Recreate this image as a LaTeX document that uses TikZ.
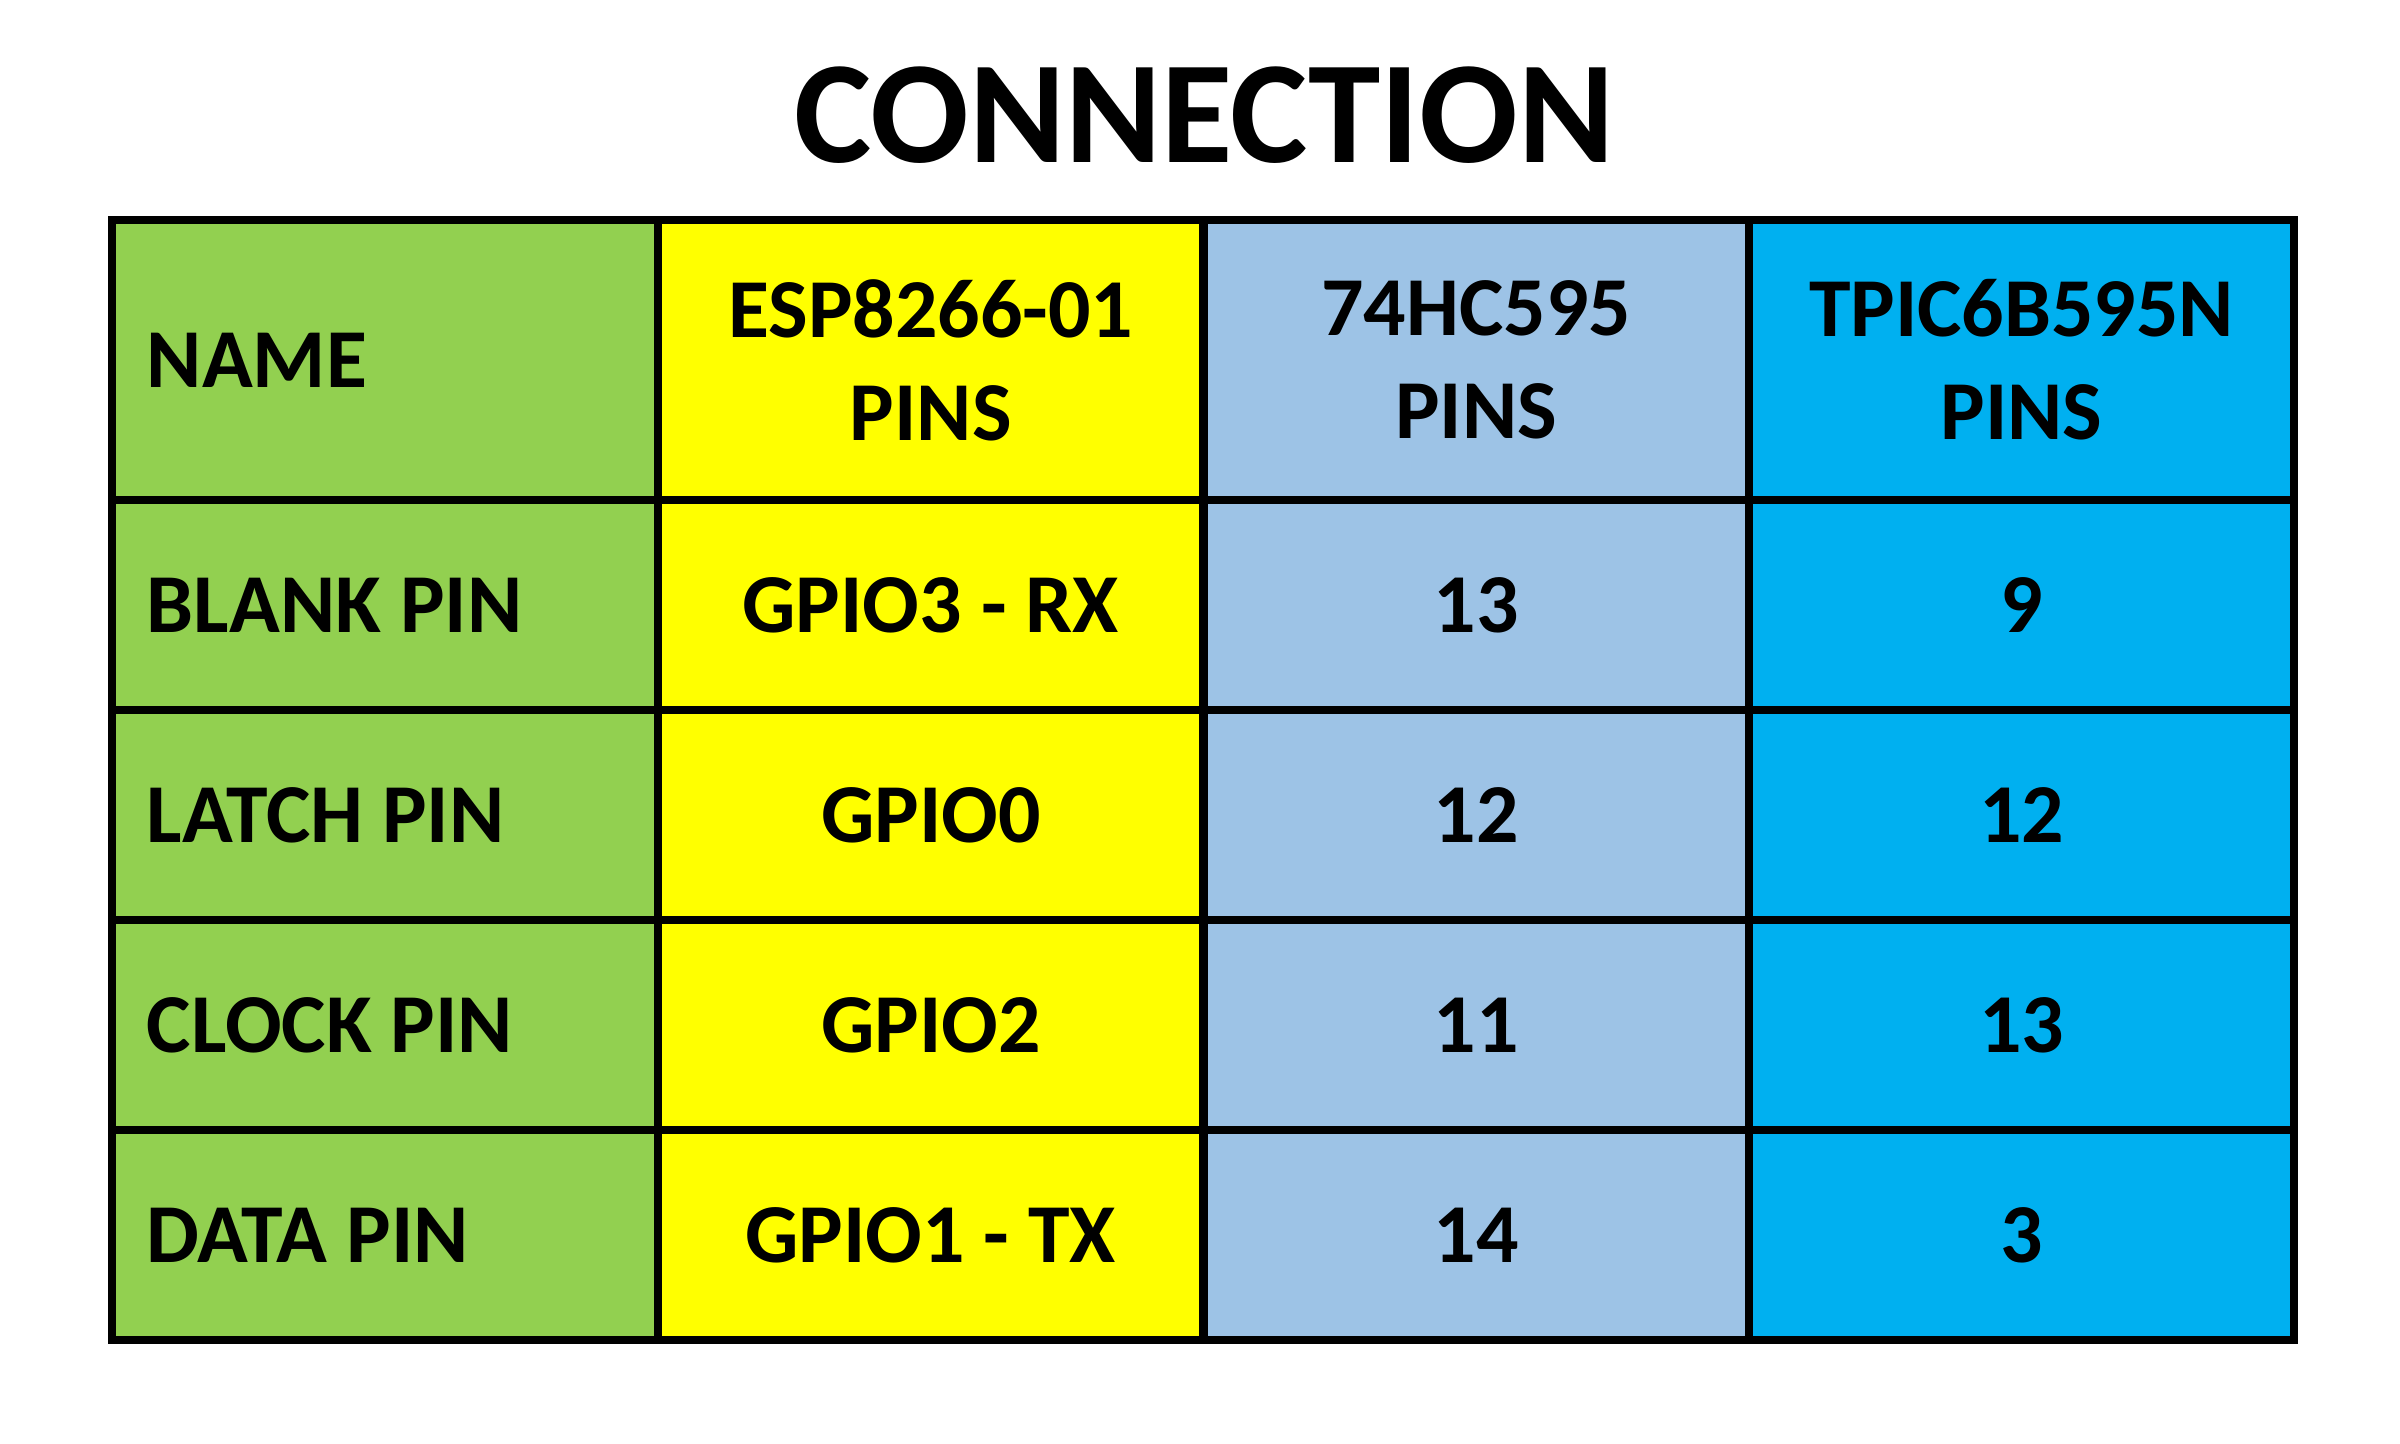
\documentclass[tikz,border=0pt]{standalone}
\usepackage{fontspec}
\setmainfont{Carlito}
\usetikzlibrary{calc}
\definecolor{namegreen}{HTML}{92D050}
\definecolor{espyellow}{HTML}{FFFF00}
\definecolor{hcblue}{HTML}{9DC3E6}
\definecolor{tpiccyan}{HTML}{00B0F0}
\begin{document}
\begin{tikzpicture}[x=1cm,y=1cm,
  cell/.style={draw=black, line width=1.5pt, minimum width=3.545cm, inner sep=0pt, outer sep=0pt},
  txt/.style={font=\fontsize{15.5}{19}\selectfont\bfseries, align=center}]

%─────────────
% Page
%─────────────
\useasboundingbox (0,0) rectangle (15.6,-9.38);

\node[font=\fontsize{27}{32}\selectfont\bfseries] (title) at (7.83,-0.75) {CONNECTION};

%─────────────
% Header row
%─────────────
\foreach \c/\col/\x in {0/namegreen/2.5025,1/espyellow/6.05,2/hcblue/9.595,3/tpiccyan/13.14} {
  \node[cell, fill=\col, minimum height=1.82cm] (h\c) at (\x,-2.34) {};
}
\node[txt, anchor=west] (hname) at ($(h0.west)+(0.1,0)$) {NAME};
\node[txt] (hesp) at (h1) {ESP8266-01\\PINS};
\node[txt] (hhc) at (h2) {74HC595\\PINS};
\node[txt] (htpic) at (h3) {TPIC6B595N\\PINS};

%─────────────
% Body rows
%─────────────
\foreach \r/\name/\esp/\hc/\tpic in {1/BLANK PIN/GPIO3 - RX/13/9,
                                     2/LATCH PIN/GPIO0/12/12,
                                     3/CLOCK PIN/GPIO2/11/13,
                                     4/DATA PIN/GPIO1 - TX/14/3} {
  \pgfmathsetmacro{\y}{-3.25-1.365*(\r-0.5)}
  \node[cell, fill=namegreen, minimum height=1.365cm] (n\r) at (2.5025,\y) {};
  \node[cell, fill=espyellow, minimum height=1.365cm] (e\r) at (6.05,\y) {};
  \node[cell, fill=hcblue, minimum height=1.365cm] (h\r) at (9.595,\y) {};
  \node[cell, fill=tpiccyan, minimum height=1.365cm] (t\r) at (13.14,\y) {};
  \node[txt, anchor=west] at ($(n\r.west)+(0.1,0)$) {\name};
  \node[txt] at (e\r) {\esp};
  \node[txt] at (h\r) {\hc};
  \node[txt] at (t\r) {\tpic};
}

\end{tikzpicture}
\end{document}
